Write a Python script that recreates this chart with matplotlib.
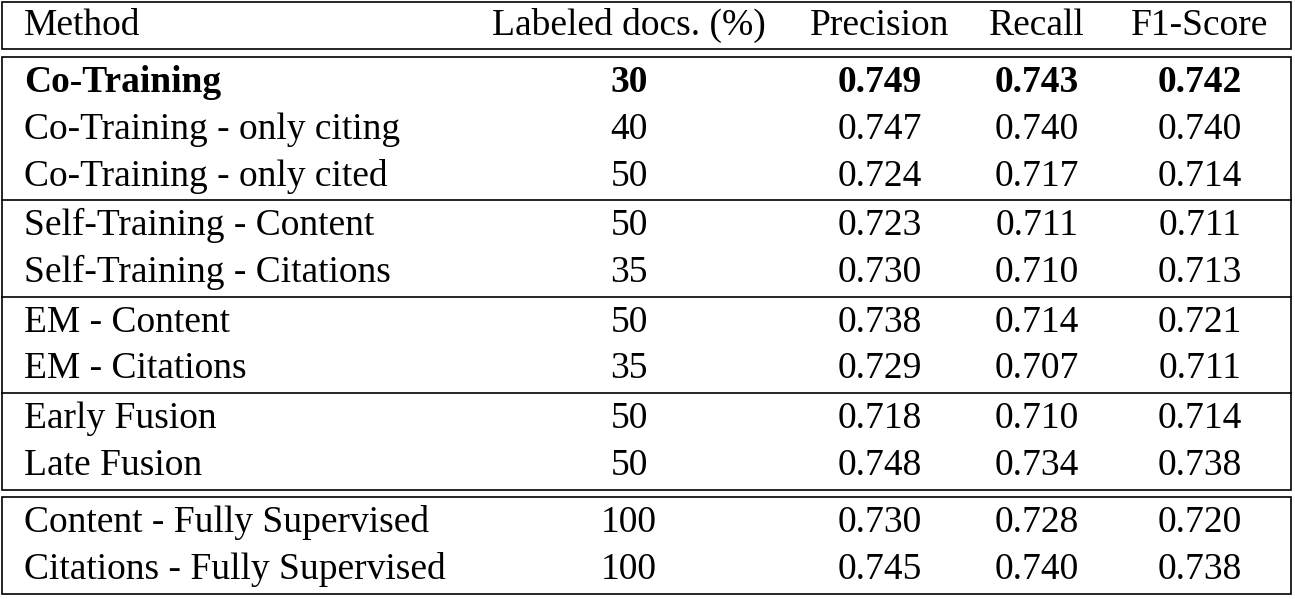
import matplotlib.pyplot as plt
from matplotlib.patches import Rectangle

# table content
header = ['Method', 'Labeled docs. (%)', 'Precision', 'Recall', 'F1-Score']
methods = ['Co-Training', 'Co-Training - only citing', 'Co-Training - only cited',
           'Self-Training - Content', 'Self-Training - Citations',
           'EM - Content', 'EM - Citations',
           'Early Fusion', 'Late Fusion',
           'Content - Fully Supervised', 'Citations - Fully Supervised']
labeled = ['30', '40', '50', '50', '35', '50', '35', '50', '50', '100', '100']
precision = ['0.749', '0.747', '0.724', '0.723', '0.730', '0.738', '0.729', '0.718', '0.748', '0.730', '0.745']
recall = ['0.743', '0.740', '0.717', '0.711', '0.710', '0.714', '0.707', '0.710', '0.734', '0.728', '0.740']
f1 = ['0.742', '0.740', '0.714', '0.711', '0.713', '0.721', '0.711', '0.714', '0.738', '0.720', '0.738']
bold_rows = [0]

plt.rcParams['font.family'] = ['Liberation Serif', 'DejaVu Serif']

W, H = 1295, 599
fig = plt.figure(figsize=(W / 100, H / 100), dpi=100)
ax = fig.add_axes([0, 0, 1, 1])
ax.set_xlim(0, W)
ax.set_ylim(H, 0)
ax.axis('off')

fs = 27
lw = 1.2
col_x = [24, 629, 880, 1037, 1200]

# boxes: header, main block, fully supervised block
for y0, y1 in [(2, 49), (57, 490), (497, 594)]:
    ax.add_patch(Rectangle((2, y0), 1289, y1 - y0, fill=False, lw=lw, ec='black'))
for y in [200, 297, 393]:
    ax.plot([2, 1291], [y, y], color='black', lw=lw)

# header row (baseline positions)
ax.text(col_x[0], 35, header[0], fontsize=fs, ha='left', va='baseline')
for x, h in zip(col_x[1:], header[1:]):
    ax.text(x, 35, h, fontsize=fs, ha='center', va='baseline')

row_base = [92, 139, 186, 235, 282, 332, 378, 428, 475, 532, 579]
for i, y in enumerate(row_base):
    w = 'bold' if i in bold_rows else 'normal'
    ax.text(col_x[0], y, methods[i], fontsize=fs, ha='left', va='baseline', weight=w)
    for x, v in zip(col_x[1:], [labeled[i], precision[i], recall[i], f1[i]]):
        ax.text(x, y, v, fontsize=fs, ha='center', va='baseline', weight=w)

fig.savefig('out.png', dpi=100)
